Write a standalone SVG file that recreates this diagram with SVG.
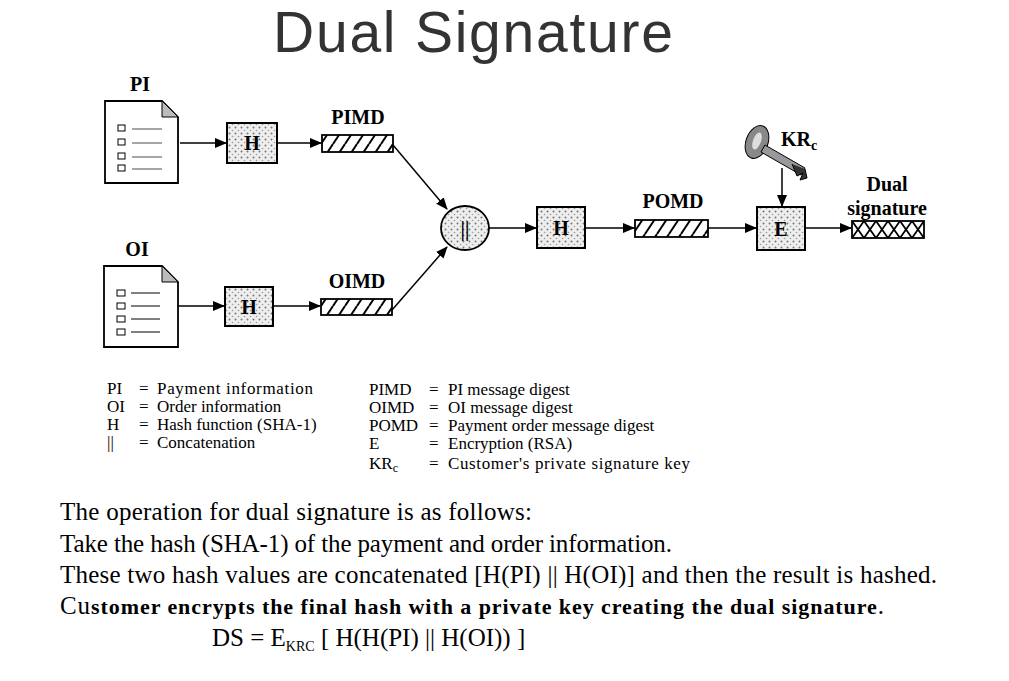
<svg xmlns="http://www.w3.org/2000/svg" width="1009" height="681" viewBox="0 0 1009 681">
<style>
.lb{font-family:"Liberation Serif",serif;font-weight:bold;font-size:20px;fill:#000;text-anchor:middle}
.lg{font-family:"Liberation Serif",serif;font-size:17px;fill:#000}
.tx{font-family:"Liberation Serif",serif;font-size:25px;fill:#000}
.ln{stroke:#000;stroke-width:1.5;fill:none}
.box{fill:url(#dots);stroke:#000;stroke-width:2}
.doc{fill:#fff;stroke:#000;stroke-width:1.8}
</style>
<defs>
<pattern id="dots" width="6" height="6" patternUnits="userSpaceOnUse"><rect width="6" height="6" fill="#eee"/><circle cx="1.5" cy="1.5" r="1" fill="#777"/><circle cx="4.5" cy="4.5" r="0.8" fill="#999"/></pattern>
<pattern id="hatch" width="12" height="18" patternUnits="userSpaceOnUse"><rect width="12" height="18" fill="#fff"/><path d="M-3,18 L9,0 M9,18 L21,0" stroke="#000" stroke-width="2"/></pattern>
<pattern id="xh" width="12" height="17" patternUnits="userSpaceOnUse"><rect width="12" height="17" fill="#fff"/><path d="M0,17 L12,0 M0,0 L12,17" stroke="#000" stroke-width="1.8"/></pattern>
<marker id="ar" markerWidth="12" markerHeight="10" refX="11" refY="5" orient="auto" markerUnits="userSpaceOnUse"><path d="M0,0 L12,5 L0,10 Z" fill="#000"/></marker>
</defs>
<rect width="1009" height="681" fill="#fff"/>
<text x="473" y="52" font-family="Liberation Sans,sans-serif" font-size="57" fill="#333" text-anchor="middle" textLength="400">Dual Signature</text>

<g id="pi"><text class="lb" x="140" y="91">PI</text>
<path class="doc" d="M105,101 H162 L178,117 V183 H105 Z"/><path d="M162,101 V117 H178 Z" fill="#bbb" stroke="#000"/>
<g stroke="#000" fill="none"><rect x="118" y="125" width="7" height="6"/><rect x="118" y="139" width="7" height="6"/><rect x="118" y="153" width="7" height="6"/><rect x="118" y="165" width="7" height="6"/><path d="M132,129 H162 M132,143 H162 M132,157 H162 M132,169 H162" stroke-width="0.7"/></g></g>
<g id="oi"><text class="lb" x="137" y="256">OI</text>
<path class="doc" d="M104,266 H162 L178,282 V347 H104 Z"/><path d="M162,266 V282 H178 Z" fill="#bbb" stroke="#000"/>
<g stroke="#000" fill="none"><rect x="117" y="290" width="8" height="6"/><rect x="117" y="303" width="8" height="6"/><rect x="117" y="316" width="8" height="6"/><rect x="117" y="329" width="8" height="6"/><path d="M131,293 H160 M131,306 H160 M131,319 H160 M131,332 H160"/></g></g>

<g id="h1"><rect class="box" x="227" y="123" width="50" height="40"/><text class="lb" x="252" y="150">H</text></g>
<g id="h2"><rect class="box" x="225" y="287" width="48" height="39"/><text class="lb" x="249" y="314">H</text></g>
<g id="pimd"><text class="lb" x="358" y="124">PIMD</text><rect x="322" y="135" width="71" height="17" fill="url(#hatch)" stroke="#000" stroke-width="1.8"/></g>
<g id="oimd"><text class="lb" x="357" y="288">OIMD</text><rect x="321" y="299" width="71" height="16" fill="url(#hatch)" stroke="#000" stroke-width="1.8"/></g>
<g id="cat"><ellipse cx="465" cy="228" rx="24" ry="22" fill="url(#dots)" stroke="#000" stroke-width="1.8"/><text class="lb" x="465" y="236">||</text></g>
<g id="h3"><rect class="box" x="537" y="207" width="48" height="41"/><text class="lb" x="561" y="235">H</text></g>
<g id="pomd"><text class="lb" x="673" y="208">POMD</text><rect x="635" y="220" width="73" height="17" fill="url(#hatch)" stroke="#000" stroke-width="1.8"/></g>
<g id="e"><rect class="box" x="757" y="207" width="48" height="43"/><text class="lb" x="781" y="236">E</text></g>
<g id="key"><ellipse cx="757" cy="142" rx="11" ry="17" transform="rotate(20 757 142)" fill="#888" stroke="#000"/><ellipse cx="757" cy="141" rx="4" ry="9" transform="rotate(20 757 141)" fill="#ddd"/><path d="M765,145 L805,168 L801,175 L761,152 Z" fill="#999" stroke="#000"/><path d="M792,164 L797,176 L803,173 L800,180 L807,178 L805,169" fill="#333" stroke="#000"/>
<text class="lb" x="799" y="146">KR<tspan font-size="14" dy="4">c</tspan></text></g>
<g id="ds"><text class="lb" x="887" y="191" font-size="21">Dual</text><text class="lb" x="887" y="215" font-size="21">signature</text><rect x="852" y="221" width="72" height="17" fill="url(#xh)" stroke="#000" stroke-width="1.8"/></g>

<g id="connectors" class="ln" marker-end="url(#ar)">
<path d="M180,143 H226"/><path d="M277,143 H321"/>
<path d="M178,306 H224"/><path d="M273,306 H320"/>
<path d="M393,145 L447,209"/><path d="M392,310 L447,247"/>
<path d="M489,228 H536"/><path d="M585,228 H634"/><path d="M708,228 H756"/>
<path d="M782,168 V206"/><path d="M805,228 H851"/>
</g>

<g id="legend" class="lg">
<text x="107" y="394">PI</text><text x="139" y="394">=</text><text x="157" y="394" textLength="156">Payment information</text>
<text x="107" y="412">OI</text><text x="139" y="412">=</text><text x="157" y="412">Order information</text>
<text x="107" y="430">H</text><text x="139" y="430">=</text><text x="157" y="430">Hash function (SHA-1)</text>
<text x="107" y="448">||</text><text x="139" y="448">=</text><text x="157" y="448">Concatenation</text>
<text x="369" y="395">PIMD</text><text x="429" y="395">=</text><text x="448" y="395">PI message digest</text>
<text x="369" y="413">OIMD</text><text x="429" y="413">=</text><text x="448" y="413">OI message digest</text>
<text x="369" y="431">POMD</text><text x="429" y="431">=</text><text x="448" y="431">Payment order message digest</text>
<text x="369" y="449">E</text><text x="429" y="449">=</text><text x="448" y="449">Encryption (RSA)</text>
<text x="369" y="469">KR<tspan font-size="12" dy="3">c</tspan></text><text x="429" y="469">=</text><text x="448" y="469" textLength="242">Customer's private signature key</text>
</g>
<g id="body" class="tx">
<text x="60" y="520" textLength="472">The operation for dual signature is as follows:</text>
<text x="60" y="552" textLength="612">Take the hash (SHA-1) of the payment and order information.</text>
<text x="60" y="583" textLength="877">These two hash values are concatenated [H(PI) || H(OI)] and then the result is hashed.</text>
<text x="60" y="614" textLength="824">Cu<tspan font-weight="bold" font-size="22">stomer encrypts the final hash with a private key creating the dual signature</tspan>.</text>
<text x="212" y="646">DS =  E<tspan font-size="14" dy="5">KRC</tspan><tspan dy="-5"> [ H(H(PI) || H(OI)) ]</tspan></text>
</g>
</svg>
